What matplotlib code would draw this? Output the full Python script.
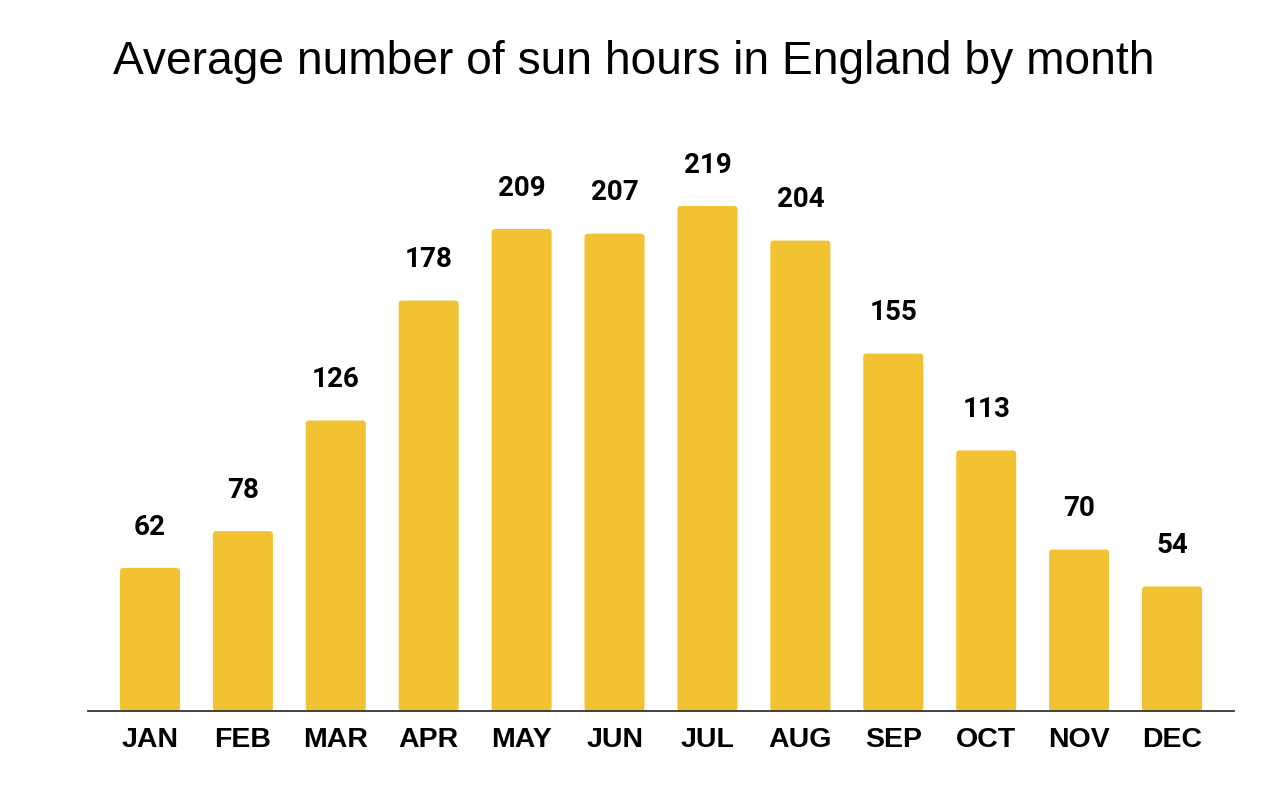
import matplotlib.pyplot as plt
from matplotlib.patches import FancyBboxPatch

months = ['JAN', 'FEB', 'MAR', 'APR', 'MAY', 'JUN',
          'JUL', 'AUG', 'SEP', 'OCT', 'NOV', 'DEC']
sun_hours = [62, 78, 126, 178, 209, 207, 219, 204, 155, 113, 70, 54]

bar_color = '#F1C232'

fig = plt.figure(figsize=(12.72, 7.88), dpi=100)
ax = fig.add_axes([88 / 1272, 77 / 788, (1234 - 88) / 1272, 0.8 - 77 / 788])

x = list(range(len(months)))
bars = ax.bar(x, sun_hours, width=0.646, color=bar_color)

# swap the plain bars for ones with slightly rounded corners
for b in bars:
    b.set_visible(False)
    rounded = FancyBboxPatch((b.get_x(), b.get_y()), b.get_width(), b.get_height(),
                             boxstyle='round,pad=0,rounding_size=0.035',
                             mutation_aspect=40, facecolor=bar_color,
                             edgecolor='none')
    ax.add_patch(rounded)

for xi, v in zip(x, sun_hours):
    ax.annotate(str(v), (xi, v), xytext=(0, 24), textcoords='offset points',
                ha='center', va='baseline', fontsize=20, fontweight='bold',
                family='Roboto', color='black')

ax.set_xlim(-0.667, 11.667)
ax.set_ylim(0, 240)
ax.set_xticks(x)
ax.set_xticklabels(months, fontsize=20.5, fontweight='bold', family='Liberation Sans')
ax.tick_params(axis='x', length=0, pad=11.5)
ax.set_yticks([])

for side in ['top', 'right', 'left']:
    ax.spines[side].set_visible(False)
ax.spines['bottom'].set_color('#333333')
ax.spines['bottom'].set_linewidth(1.3)

fig.text(0.4985, 1 - 74 / 788, 'Average number of sun hours in England by month',
         ha='center', va='baseline', fontsize=33.2, family='Liberation Sans')

fig.savefig('out.png', dpi=100)
